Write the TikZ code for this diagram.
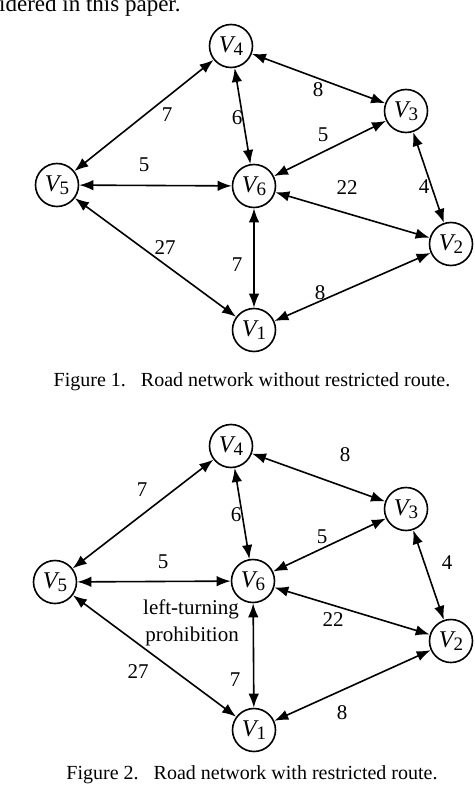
\documentclass[tikz,border=0pt]{standalone}
\usepackage{fontspec}
\setmainfont{Liberation Serif}
\usetikzlibrary{arrows.meta}
\newcommand{\vtx}[1]{\textit{V}\kern-2pt\raisebox{-3.5pt}{\fontsize{19}{19}\selectfont #1}}
\begin{document}
\begin{tikzpicture}[x=1pt,y=-1pt,>={Latex[length=14pt,width=10.5pt]},line join=round,font=\fontsize{21}{24}\selectfont,
  city/.style={draw,circle,line width=1.6pt,minimum size=43pt,inner sep=0pt,font=\fontsize{24}{24}\selectfont},
  road/.style={<->,line width=1.6pt},
  caption/.style={font=\fontsize{20}{24}\selectfont}]
\useasboundingbox (0,0) rectangle (474,791);
\node[anchor=base west,inner sep=0pt,font=\fontsize{23}{24}\selectfont] (intro) at (-1,12) {idered in this paper.};
% Figure 1
\foreach \n/\p in {1/{254,330},2/{451,244},3/{406,111},4/{231,46},5/{57,185},6/{254,186}}
  \node[city] (a\n) at (\p) {\vtx{\n}};
\foreach \s/\t in {4/5,4/6,4/3,3/6,3/2,5/6,6/2,5/1,6/1,1/2}
  \draw[road] (a\s) -- (a\t);
\foreach \l/\p [count=\i] in {7/{167,115},6/{237,118},8/{318,90},5/{323,135},5/{144,165},22/{347,188},4/{424,187},27/{165,248},7/{237,265},8/{320,293}}
  \node (la\i) at (\p) {\l};
\node[caption] (cap1) at (252,382) {Figure 1.\hspace{15pt}Road network without restricted route.};
% Figure 2
\foreach \n/\p in {1/{254,730},2/{451,641},3/{406,509},4/{231,446},5/{55,582},6/{253,581}}
  \node[city] (b\n) at (\p) {\vtx{\n}};
\foreach \s/\t in {4/5,4/6,4/3,3/6,3/2,5/6,6/2,5/1,6/1,1/2}
  \draw[road] (b\s) -- (b\t);
\foreach \l/\p [count=\i] in {7/{142,490},6/{236,515},8/{345,455},5/{322,537},4/{447,563},5/{163,562},22/{333,620},27/{138,672},7/{235,680},8/{342,713}}
  \node (lb\i) at (\p) {\l};
\node[align=right,font=\fontsize{21}{27}\selectfont] (note) at (191,623) {left-turning\\prohibition};
\node[caption] (cap2) at (252,775) {Figure 2.\hspace{15pt}Road network with restricted route.};
\end{tikzpicture}
\end{document}
